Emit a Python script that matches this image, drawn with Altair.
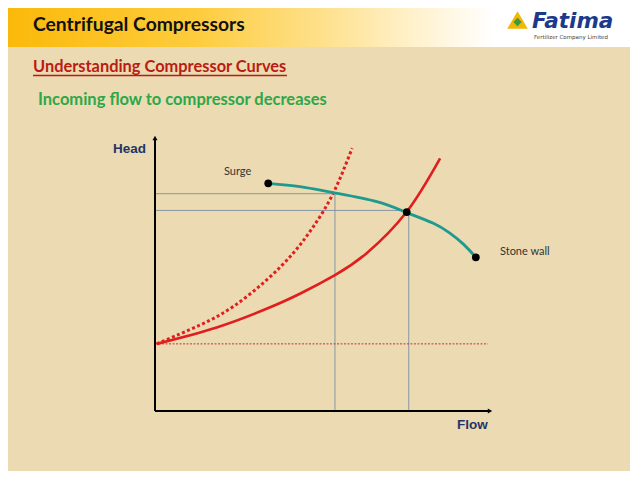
import altair as alt
import pandas as pd

# ---- data (Flow / Head in relative units 0..100) ----
teal_flow = [33.6, 43.0, 52.9, 65.8, 74.7, 82.6, 87.5, 91.5, 95.2]
teal_head = [83.1, 81.9, 79.7, 76.4, 72.4, 68.5, 64.9, 60.9, 56.1]

red_flow = [0.5, 18.3, 33.1, 43.0, 53.4, 62.8, 74.7, 84.6]
red_head = [24.5, 30.5, 37.3, 42.8, 49.6, 57.6, 72.7, 92.2]

dot_flow = [0.5, 13.4, 23.2, 33.1, 41.0, 47.0, 52.9, 58.5]
dot_head = [24.5, 31.4, 38.1, 47.8, 57.6, 67.3, 79.5, 95.9]

point_names = ["Surge", "Operating", "Stone wall"]
point_flow = [33.6, 74.7, 95.2]
point_head = [83.1, 72.6, 56.1]

guide_flow = [53.4, 75.3]
guide_head = [79.3, 73.2]

base_head = 24.5
base_end_flow = 98.8

XS = alt.Scale(domain=[0, 100], nice=False, zero=False)
YS = alt.Scale(domain=[0, 100], nice=False, zero=False)

def curve(fl, hd):
    return pd.DataFrame({"flow": fl, "head": hd, "i": list(range(len(fl)))})

def X(f="flow:Q"):
    return alt.X(f, scale=XS, axis=None)

def Y(f="head:Q"):
    return alt.Y(f, scale=YS, axis=None)

one = pd.DataFrame({"k": [0]})

# header band with gradient
header = alt.Chart(one).mark_rect(
    fill={"gradient": "linear", "x1": 0, "x2": 1, "y1": 0, "y2": 0,
          "stops": [{"offset": 0, "color": "#FBB90A"},
                    {"offset": 0.3, "color": "#FDCC3C"},
                    {"offset": 0.5, "color": "#FEE08A"},
                    {"offset": 0.66, "color": "#FFF2CF"},
                    {"offset": 0.78, "color": "#FFFFFF"},
                    {"offset": 1, "color": "#FFFFFF"}]}
).encode(x=alt.value(-147), x2=alt.value(475), y=alt.value(-129), y2=alt.value(-90))

def txt(text, x, y, size, color, weight="normal", font="Lato", style="normal", align="left"):
    return alt.Chart(one).mark_text(
        text=text, font=font, fontSize=size, fontWeight=weight, fontStyle=style,
        color=color, align=align, baseline="alphabetic"
    ).encode(x=alt.value(x), y=alt.value(y))

title1 = txt("Centrifugal Compressors", -122, -106, 19.3, "#111111", "bold")
title2 = txt("Understanding Compressor Curves", -122, -65.5, 16.4, "#B81D13", "bold")
underline = alt.Chart(one).mark_rule(color="#B81D13", strokeWidth=1.4).encode(
    x=alt.value(-122), x2=alt.value(132), y=alt.value(-61.5))
title3 = txt("Incoming flow to compressor decreases", -117, -32, 16.5, "#2BA84A", "bold")

logo_tri = alt.Chart(one).mark_point(shape="triangle-up", filled=True, size=420,
                                     color="#F2B705", opacity=1).encode(
    x=alt.value(362.5), y=alt.value(-117))
logo_leaf = alt.Chart(one).mark_point(shape="diamond", filled=True, size=70,
                                      color="#3C9A3C", opacity=1).encode(
    x=alt.value(362.5), y=alt.value(-115))
logo = txt("Fatima", 377, -109, 21.5, "#1B3A8C", "bold", font="DejaVu Sans", style="italic")
logo_sub = txt("Fertilizer Company Limited", 379, -98, 5.5, "#444444", font="DejaVu Sans")

# guide lines
g = pd.DataFrame({"flow": guide_flow, "head": guide_head, "z": [0, 0]})
gh = alt.Chart(g).mark_rule(color="#8796A6", strokeWidth=1).encode(
    x=alt.X("z:Q", scale=XS, axis=None), x2="flow:Q", y=Y())
gv = alt.Chart(g).mark_rule(color="#8796A6", strokeWidth=1).encode(
    x=X(), y=alt.Y("z:Q", scale=YS, axis=None), y2="head:Q")

base = alt.Chart(pd.DataFrame({"head": [base_head], "f0": [0], "f1": [base_end_flow]})).mark_rule(
    color="#C0392B", strokeWidth=1, strokeDash=[2, 1.5]).encode(
    x=alt.X("f0:Q", scale=XS, axis=None), x2="f1:Q", y=Y())

red_dotted = alt.Chart(curve(dot_flow, dot_head)).mark_line(
    color="#E01E1E", strokeWidth=3, strokeDash=[3, 2.5], interpolate="natural").encode(
    x=X(), y=Y(), order="i:Q")
red_solid = alt.Chart(curve(red_flow, red_head)).mark_line(
    color="#E01E1E", strokeWidth=2.6, interpolate="natural").encode(
    x=X(), y=Y(), order="i:Q")
teal = alt.Chart(curve(teal_flow, teal_head)).mark_line(
    color="#1E9A8E", strokeWidth=2.8, interpolate="natural").encode(
    x=X(), y=Y(), order="i:Q")

pts = alt.Chart(pd.DataFrame({"name": point_names, "flow": point_flow, "head": point_head})).mark_circle(
    color="#000000", size=60, opacity=1).encode(x=X(), y=Y())

# axes with arrows
axes = alt.Chart(one).mark_rule(color="#000000", strokeWidth=2).encode(
    x=alt.value(0), x2=alt.value(0), y=alt.value(2), y2=alt.value(274))
axes2 = alt.Chart(one).mark_rule(color="#000000", strokeWidth=2).encode(
    x=alt.value(0), x2=alt.value(333), y=alt.value(274), y2=alt.value(274))
arr_up = alt.Chart(one).mark_point(shape="triangle-up", filled=True, size=25, color="#000000", opacity=1).encode(
    x=alt.value(0), y=alt.value(1))
arr_r = alt.Chart(one).mark_point(shape="triangle-right", filled=True, size=25, color="#000000", opacity=1).encode(
    x=alt.value(335), y=alt.value(274))

head_lbl = txt("Head", -42, 16, 13.5, "#1F3566", "bold", font="Liberation Sans")
flow_lbl = txt("Flow", 302, 292, 13.5, "#1F3566", "bold", font="Liberation Sans")
surge_lbl = txt("Surge", 69, 38, 11, "#333333", font="Lato")
stone_lbl = txt("Stone wall", 345, 118, 11, "#333333", font="Lato")

chart = alt.layer(
    header, title1, title2, underline, title3, logo_tri, logo_leaf, logo, logo_sub,
    gh, gv, base, red_dotted, red_solid, teal, pts,
    axes, axes2, arr_up, arr_r, head_lbl, flow_lbl, surge_lbl, stone_lbl
).properties(
    width=337, height=274,
    padding={"left": 147, "top": 129, "right": 138, "bottom": 60},
    autosize=alt.AutoSizeParams(type="none"),
    background="#ECDAB2"
).configure_view(stroke=None)

chart.save("out.html", embed_options={"renderer": "svg", "actions": False})
